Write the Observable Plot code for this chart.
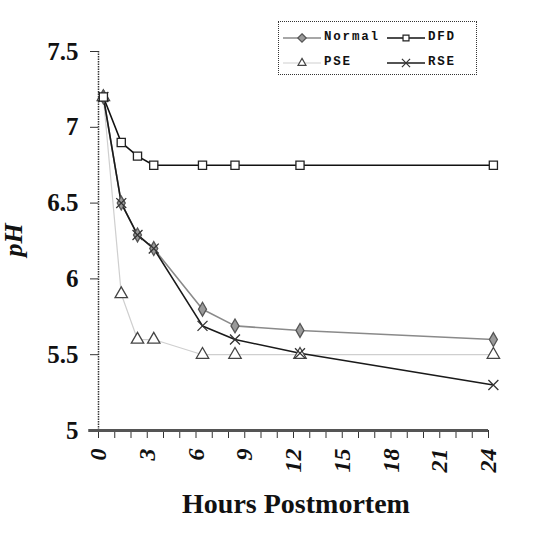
<!DOCTYPE html>
<html>
<head>
<meta charset="utf-8">
<script src="https://cdn.jsdelivr.net/npm/d3@7"></script>
<script src="https://cdn.jsdelivr.net/npm/@observablehq/plot@0.6"></script>
<style>
  html, body { margin: 0; padding: 0; background: #fff; }
  #wrap { position: relative; width: 535px; height: 534px; }
  #legend { position: absolute; left: 278px; top: 21px; width: 199px; height: 54px;
    border: 1.5px dotted #333; box-sizing: border-box; background: #fff;
    font-family: "Liberation Mono", monospace; font-weight: bold; font-size: 12.5px; letter-spacing: 1.8px; color: #111; }
  #legend svg { position: absolute; left: 0; top: 0; }
  .lt { position: absolute; line-height: 12px; }
</style>
</head>
<body>
<div id="wrap"></div>
<script>
const hours = [0.3, 1.4, 2.4, 3.4, 6.4, 8.4, 12.4, 24.3];
const normal = [7.2, 6.5, 6.29, 6.2, 5.8, 5.69, 5.66, 5.6];
const dfd    = [7.2, 6.9, 6.81, 6.75, 6.75, 6.75, 6.75, 6.75];
const pse    = [7.2, 5.9, 5.6, 5.6, 5.5, 5.5, 5.5, 5.5];
const rse    = [7.2, 6.5, 6.29, 6.2, 5.69, 5.6, 5.51, 5.3];
const seriesNames = ["Normal", "DFD", "PSE", "RSE"];
const yTicks = [5, 5.5, 6, 6.5, 7, 7.5];
const xTicks = d3.range(0, 25, 1);
const xLabels = d3.range(0, 25, 3);

const styles = {
  Normal: {line: "#8a8a8a", lw: 1.6, symbol: "diamond", fill: "#9a9a9a", stroke: "#555", r: 4.2},
  DFD:    {line: "#111", lw: 1.6, symbol: "square", fill: "#fff", stroke: "#222", r: 4.6},
  PSE:    {line: "#cfcfcf", lw: 1.2, symbol: "triangle", fill: "#fff", stroke: "#444", r: 4.6},
  RSE:    {line: "#1a1a1a", lw: 1.6, symbol: "times", fill: "none", stroke: "#333", r: 4.6}
};
const values = {Normal: normal, DFD: dfd, PSE: pse, RSE: rse};
const rows = name => hours.map((h, i) => ({h, v: values[name][i], s: name}));

const marks = [
  Plot.ruleX([0], {y1: 5, y2: 7.5, stroke: "#333", strokeWidth: 1.5, strokeDasharray: "1.5,1"}),
  Plot.axisY({ticks: yTicks, tickSize: 8, tickPadding: 12, stroke: "#333", fontSize: 25,
    tickFormat: d => String(d),
    fontFamily: "Liberation Serif", fontWeight: "bold", fill: "#111", label: null}),
  Plot.axisX({ticks: xTicks, tickSize: 8, tickPadding: 10, tickRotate: -90, stroke: "#333",
    tickFormat: d => (xLabels.includes(d) ? String(d) : ""), fontSize: 24,
    fontFamily: "Liberation Serif", fontWeight: "bold", fontStyle: "italic", fill: "#111", label: null}),
  Plot.ruleY([5], {x1: -0.6, x2: 24, stroke: "#555", strokeWidth: 3})
];
for (const name of ["PSE", "Normal", "RSE", "DFD"]) {
  const st = styles[name];
  marks.push(Plot.line(rows(name), {x: "h", y: "v", stroke: st.line, strokeWidth: st.lw}));
}
for (const name of ["PSE", "Normal", "RSE", "DFD"]) {
  const st = styles[name];
  marks.push(Plot.dot(rows(name), {x: "h", y: "v", symbol: st.symbol, r: st.r,
    fill: st.fill, stroke: st.stroke, strokeWidth: 1.3}));
}

const chart = Plot.plot({
  width: 535, height: 534,
  marginLeft: 98, marginRight: 47, marginTop: 51, marginBottom: 104,
  x: {domain: [0, 24]},
  y: {domain: [5, 7.5]},
  style: {background: "#fff", overflow: "visible"},
  marks
});
const wrap = document.getElementById("wrap");
wrap.appendChild(chart);

// axis titles
const svg = d3.select(chart);
svg.append("text").attr("x", 296).attr("y", 513).attr("text-anchor", "middle")
  .attr("font-family", "Liberation Serif").attr("font-weight", "bold").attr("font-size", 28)
  .attr("fill", "#111").text("Hours Postmortem");
svg.append("text").attr("transform", "translate(22,240) rotate(-90)").attr("text-anchor", "middle")
  .attr("font-family", "Liberation Serif").attr("font-weight", "bold").attr("font-style", "italic")
  .attr("font-size", 26).attr("fill", "#111").text("pH");

// legend
const legend = document.createElement("div");
legend.id = "legend";
wrap.appendChild(legend);
const lsvg = d3.select(legend).append("svg").attr("width", 199).attr("height", 54);
const pos = {Normal: [4, 16], DFD: [108, 16], PSE: [4, 41], RSE: [108, 41]};
for (const name of seriesNames) {
  const st = styles[name];
  const [lx, ly] = pos[name];
  lsvg.append("line").attr("x1", lx).attr("x2", lx + 38).attr("y1", ly).attr("y2", ly)
    .attr("stroke", st.line).attr("stroke-width", st.lw);
  const sym = {diamond: d3.symbolDiamond2, square: d3.symbolSquare2, triangle: d3.symbolTriangle2, times: d3.symbolTimes}[st.symbol];
  lsvg.append("path").attr("transform", `translate(${lx + 19},${ly})`)
    .attr("d", d3.symbol(sym, 45)()).attr("fill", st.fill).attr("stroke", st.stroke).attr("stroke-width", 1.2);
  const t = document.createElement("div");
  t.className = "lt";
  t.style.left = (lx + 41) + "px";
  t.style.top = (ly - 7) + "px";
  t.textContent = name;
  legend.appendChild(t);
}
</script>
</body>
</html>
